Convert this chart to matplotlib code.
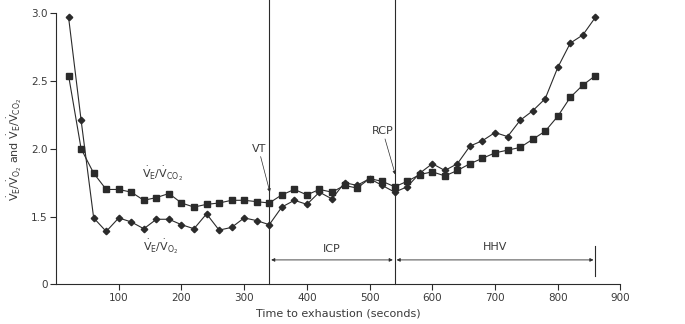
import numpy as np
import matplotlib
matplotlib.use("Agg")
import matplotlib.pyplot as plt

# data (time in s, ratios)
time = np.arange(20, 861, 20)
ve_vco2 = [2.54, 2.00, 1.82, 1.70, 1.70, 1.68, 1.62, 1.64, 1.67, 1.60, 1.57,
           1.59, 1.60, 1.62, 1.62, 1.61, 1.60, 1.66, 1.70, 1.66, 1.70, 1.68,
           1.73, 1.71, 1.78, 1.76, 1.72, 1.76, 1.81, 1.83, 1.80, 1.84, 1.89,
           1.93, 1.97, 1.99, 2.01, 2.07, 2.13, 2.24, 2.38, 2.47, 2.54]
ve_vo2 = [2.97, 2.21, 1.49, 1.39, 1.49, 1.46, 1.41, 1.48, 1.48, 1.44, 1.41,
          1.52, 1.40, 1.42, 1.49, 1.47, 1.44, 1.57, 1.62, 1.59, 1.68, 1.63,
          1.75, 1.73, 1.78, 1.73, 1.68, 1.72, 1.82, 1.89, 1.84, 1.89, 2.02,
          2.06, 2.12, 2.09, 2.21, 2.28, 2.37, 2.60, 2.78, 2.84, 2.97]
# broken axis: the bottom tick "0" sits where 1.0 would be
yticks = [1.0, 1.5, 2.0, 2.5, 3.0]
ytick_labels = ["0", "1.5", "2.0", "2.5", "3.0"]
xticks = [100, 200, 300, 400, 500, 600, 700, 800, 900]
vt, rcp, end = 340, 540, 860

dark = "#2b2b2b"
txt = "#3a3a3a"

fig = plt.figure(figsize=(6.85, 3.24), dpi=100)
ax = fig.add_axes([0.0818, 0.1225, 0.824, 0.8365])

ax.plot(time, ve_vco2, color=dark, lw=0.8, marker="s", ms=4.2)
ax.plot(time, ve_vo2, color=dark, lw=0.8, marker="D", ms=3.3)

# threshold lines
for xv in (vt, rcp):
    ax.plot([xv, xv], [1.0, 3.1], color=dark, lw=0.8, clip_on=False)
ax.plot([end, end], [1.06, 1.28], color=dark, lw=0.8)

arr = dict(arrowstyle="<|-|>", lw=0.6, color=dark, mutation_scale=5,
           shrinkA=0, shrinkB=0)
ax.annotate("", xy=(vt + 3, 1.18), xytext=(rcp - 3, 1.18), arrowprops=arr)
ax.annotate("", xy=(rcp + 3, 1.18), xytext=(end - 3, 1.18), arrowprops=arr)
ax.text((vt + rcp) / 2, 1.26, "ICP", ha="center", va="center", fontsize=8, color=txt)
ax.text((rcp + end) / 2, 1.275, "HHV", ha="center", va="center", fontsize=8, color=txt)

pointer = dict(arrowstyle="-|>", lw=0.5, color=dark, mutation_scale=5,
               shrinkA=0, shrinkB=0)
ax.annotate("VT", xy=(341, 1.68), xytext=(323, 2.0), ha="center", va="center",
            fontsize=8, color=txt, arrowprops=pointer)
ax.annotate("RCP", xy=(541, 1.81), xytext=(521, 2.13), ha="center", va="center",
            fontsize=8, color=txt, arrowprops=pointer)

ax.text(170, 1.815, r"$\dot{\mathrm{V}}_\mathrm{E}/\dot{\mathrm{V}}_{\mathrm{CO}_2}$",
        ha="center", va="center", fontsize=8, color=txt)
ax.text(167, 1.274, r"$\dot{\mathrm{V}}_\mathrm{E}/\dot{\mathrm{V}}_{\mathrm{O}_2}$",
        ha="center", va="center", fontsize=8, color=txt)

ax.set_xlim(0, 900)
ax.set_ylim(1.0, 3.0)
ax.set_xticks(xticks)
ax.set_yticks(yticks)
ax.set_yticklabels(ytick_labels)
ax.tick_params(labelsize=7.5, colors=dark, labelcolor=txt, length=4, width=0.8, pad=2)
for s in ("top", "right"):
    ax.spines[s].set_visible(False)
for s in ("left", "bottom"):
    ax.spines[s].set_color(dark)
    ax.spines[s].set_linewidth(0.8)

ax.set_xlabel("Time to exhaustion (seconds)", fontsize=8, color=txt, labelpad=4)
ax.set_ylabel(r"$\dot{\mathrm{V}}_\mathrm{E}/\dot{\mathrm{V}}_{\mathrm{O}_2}$ and "
              r"$\dot{\mathrm{V}}_\mathrm{E}/\dot{\mathrm{V}}_{\mathrm{CO}_2}$",
              fontsize=8, color=txt, labelpad=5)

fig.savefig("out.png", dpi=100)
